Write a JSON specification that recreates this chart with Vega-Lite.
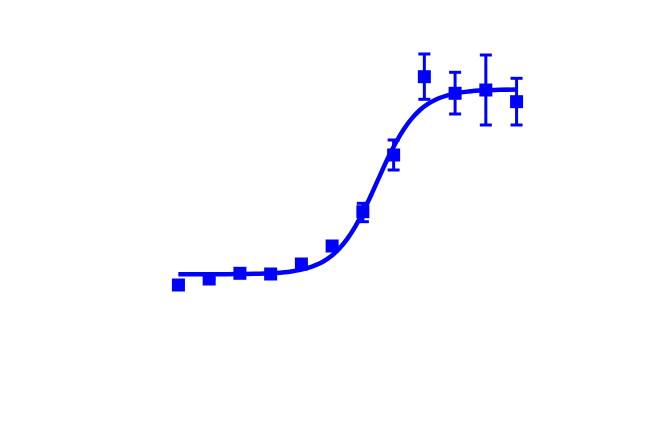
{
  "$schema": "https://vega.github.io/schema/vega-lite/v6.json",
  "width": 451,
  "height": 300,
  "autosize": {"type": "none"},
  "padding": {"left": 130, "top": 41, "right": 69, "bottom": 96},
  "background": "white",
  "datasets": {
    "points": [
      {"conc": 5.645e-12, "rlu": 7467, "lo": 7467, "hi": 7467},
      {"conc": 1.694e-11, "rlu": 8267, "lo": 8267, "hi": 8267},
      {"conc": 5.081e-11, "rlu": 9027, "lo": 9027, "hi": 9027},
      {"conc": 1.524e-10, "rlu": 8933, "lo": 8933, "hi": 8933},
      {"conc": 4.572e-10, "rlu": 10267, "lo": 10267, "hi": 10267},
      {"conc": 1.372e-9, "rlu": 12667, "lo": 12667, "hi": 12667},
      {"conc": 4.115e-9, "rlu": 17240, "lo": 15907, "hi": 18360},
      {"conc": 1.235e-8, "rlu": 24800, "lo": 22800, "hi": 26800},
      {"conc": 3.704e-8, "rlu": 35240, "lo": 32227, "hi": 38267},
      {"conc": 1.111e-7, "rlu": 33027, "lo": 30267, "hi": 35827},
      {"conc": 3.333e-7, "rlu": 33467, "lo": 28800, "hi": 38133},
      {"conc": 1e-6, "rlu": 31907, "lo": 28800, "hi": 35027}
    ],
    "curve": [
      {"conc": 5.623e-12, "rlu": 8895},
      {"conc": 1e-11, "rlu": 8897},
      {"conc": 1.778e-11, "rlu": 8901},
      {"conc": 3.162e-11, "rlu": 8910},
      {"conc": 5.623e-11, "rlu": 8931},
      {"conc": 1e-10, "rlu": 8975},
      {"conc": 1.778e-10, "rlu": 9070},
      {"conc": 3.162e-10, "rlu": 9276},
      {"conc": 5.623e-10, "rlu": 9710},
      {"conc": 1e-9, "rlu": 10605},
      {"conc": 1.334e-9, "rlu": 11338},
      {"conc": 1.778e-9, "rlu": 12337},
      {"conc": 2.371e-9, "rlu": 13656},
      {"conc": 3.162e-9, "rlu": 15331},
      {"conc": 4.217e-9, "rlu": 17339},
      {"conc": 5.623e-9, "rlu": 19600},
      {"conc": 7.499e-9, "rlu": 21991},
      {"conc": 1e-8, "rlu": 24334},
      {"conc": 1.334e-8, "rlu": 26431},
      {"conc": 1.778e-8, "rlu": 28232},
      {"conc": 2.371e-8, "rlu": 29680},
      {"conc": 3.162e-8, "rlu": 30797},
      {"conc": 4.217e-8, "rlu": 31611},
      {"conc": 5.623e-8, "rlu": 32200},
      {"conc": 1e-7, "rlu": 32918},
      {"conc": 1.778e-7, "rlu": 33259},
      {"conc": 3.162e-7, "rlu": 33421},
      {"conc": 5.623e-7, "rlu": 33496},
      {"conc": 1e-6, "rlu": 33531}
    ]
  },
  "encoding": {
    "x": {
      "field": "conc",
      "type": "quantitative",
      "scale": {"type": "log", "domain": [1e-12, 1e-5], "nice": false},
      "axis": {
        "title": "CCL13, M",
        "values": [1e-12, 1e-11, 1e-10, 1e-9, 1e-8, 1e-7, 1e-6, 1e-5],
        "labelExpr": "'10' + ['⁻¹²','⁻¹¹','⁻¹⁰','⁻⁹','⁻⁸','⁻⁷','⁻⁶','⁻⁵'][round(log(datum.value)/LN10) + 12]",
        "grid": false,
        "domainColor": "white",
        "tickColor": "white",
        "tickSize": 6,
        "labelPadding": 4,
        "labelFontSize": 22,
        "titleFontSize": 24,
        "titlePadding": 10
      }
    },
    "y": {
      "field": "rlu",
      "type": "quantitative",
      "scale": {"domain": [0, 40000], "nice": false},
      "axis": {
        "title": "RLU",
        "values": [0, 10000, 20000, 30000, 40000],
        "format": "d",
        "grid": false,
        "domainColor": "white",
        "tickColor": "white",
        "tickSize": 6,
        "labelPadding": 6,
        "labelFontSize": 22,
        "titleFontSize": 22,
        "titlePadding": 14
      }
    }
  },
  "layer": [
    {
      "data": {"name": "curve"},
      "mark": {"type": "line", "color": "#0000FF", "strokeWidth": 4.5, "interpolate": "monotone"}
    },
    {
      "data": {"name": "points"},
      "mark": {"type": "rule", "color": "#0000FF", "strokeWidth": 3},
      "encoding": {"y": {"field": "lo", "type": "quantitative"}, "y2": {"field": "hi"}}
    },
    {
      "data": {"name": "points"},
      "mark": {"type": "tick", "orient": "horizontal", "color": "#0000FF", "opacity": 1, "size": 12, "thickness": 3},
      "encoding": {"y": {"field": "lo", "type": "quantitative"}}
    },
    {
      "data": {"name": "points"},
      "mark": {"type": "tick", "orient": "horizontal", "color": "#0000FF", "opacity": 1, "size": 12, "thickness": 3},
      "encoding": {"y": {"field": "hi", "type": "quantitative"}}
    },
    {
      "data": {"name": "points"},
      "mark": {"type": "square", "color": "#0000FF", "filled": true, "opacity": 1, "size": 169}
    }
  ],
  "config": {
    "view": {"stroke": null},
    "font": "Liberation Sans",
    "axis": {
      "labelColor": "white",
      "titleColor": "white",
      "labelFontWeight": "bold",
      "titleFontWeight": "bold"
    }
  }
}
